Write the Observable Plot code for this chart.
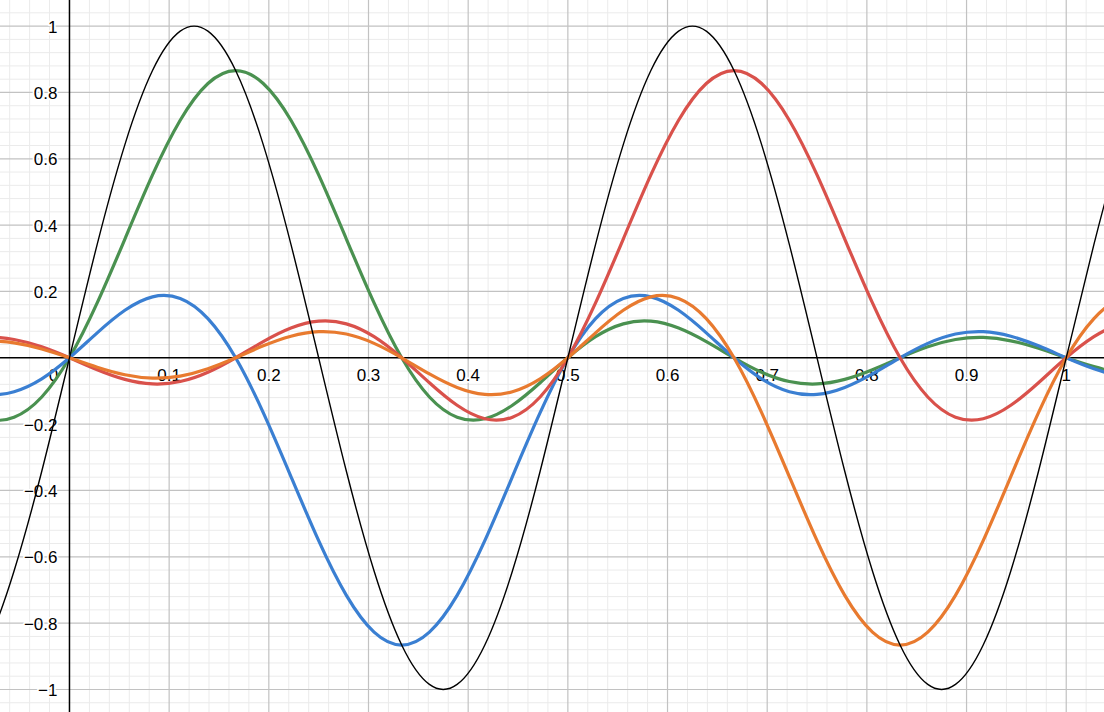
<!DOCTYPE html>
<html>
<head>
<meta charset="utf-8">
<script src="https://cdn.jsdelivr.net/npm/d3@7"></script>
<script src="https://cdn.jsdelivr.net/npm/@observablehq/plot@0.6"></script>
<style>
  html, body { margin: 0; padding: 0; background: #fff; }
  #chart svg { display: block; }
</style>
</head>
<body>
<div id="chart"></div>
<script>
// Sample positions (x)
const xs = [-0.1111, -0.0833, -0.0556, -0.0278, 0, 0.0278, 0.0556, 0.0833, 0.1111, 0.1389,
  0.1667, 0.1944, 0.2222, 0.25, 0.2778, 0.3056, 0.3333, 0.3611, 0.3889, 0.4167,
  0.4444, 0.4722, 0.5, 0.5278, 0.5556, 0.5833, 0.6111, 0.6389, 0.6667, 0.6944,
  0.7222, 0.75, 0.7778, 0.8056, 0.8333, 0.8611, 0.8889, 0.9167, 0.9444, 0.9722,
  1, 1.0278, 1.0556, 1.0833];

const blackY = [-0.9848, -0.8660, -0.6428, -0.3420, 0, 0.3420, 0.6428, 0.8660, 0.9848, 0.9848,
  0.8660, 0.6428, 0.3420, 0, -0.3420, -0.6428, -0.8660, -0.9848, -0.9848, -0.8660,
  -0.6428, -0.3420, 0, 0.3420, 0.6428, 0.8660, 0.9848, 0.9848, 0.8660, 0.6428,
  0.3420, 0, -0.3420, -0.6428, -0.8660, -0.9848, -0.9848, -0.8660, -0.6428, -0.3420,
  0, 0.3420, 0.6428, 0.8660];

const greenY = [-0.1432, -0.1838, -0.1790, -0.1181, 0, 0.1654, 0.3581, 0.5513, 0.7162, 0.8270,
  0.8660, 0.8270, 0.7162, 0.5513, 0.3581, 0.1654, 0, -0.1181, -0.1790, -0.1838,
  -0.1432, -0.0752, 0, 0.0636, 0.1023, 0.1103, 0.0895, 0.0486, 0, -0.0435,
  -0.0716, -0.0788, -0.0651, -0.0360, 0, 0.0331, 0.0551, 0.0613, 0.0512, 0.0285,
  0, -0.0267, -0.0448, -0.0501];

const blueY = [-0.0895, -0.1103, -0.1023, -0.0636, 0, 0.0752, 0.1432, 0.1838, 0.1790, 0.1181,
  0, -0.1654, -0.3581, -0.5513, -0.7162, -0.8270, -0.8660, -0.8270, -0.7162, -0.5513,
  -0.3581, -0.1654, 0, 0.1181, 0.1790, 0.1838, 0.1432, 0.0752, 0, -0.0636,
  -0.1023, -0.1103, -0.0895, -0.0486, 0, 0.0435, 0.0716, 0.0788, 0.0651, 0.0360,
  0, -0.0331, -0.0551, -0.0613];

const redY = [0.0512, 0.0613, 0.0551, 0.0331, 0, -0.0360, -0.0651, -0.0788, -0.0716, -0.0435,
  0, 0.0486, 0.0895, 0.1103, 0.1023, 0.0636, 0, -0.0752, -0.1432, -0.1838,
  -0.1790, -0.1181, 0, 0.1654, 0.3581, 0.5513, 0.7162, 0.8270, 0.8660, 0.8270,
  0.7162, 0.5513, 0.3581, 0.1654, 0, -0.1181, -0.1790, -0.1838, -0.1432, -0.0752,
  0, 0.0636, 0.1023, 0.1103];

const orangeY = [0.0421, 0.0501, 0.0448, 0.0267, 0, -0.0285, -0.0512, -0.0613, -0.0551, -0.0331,
  0, 0.0360, 0.0651, 0.0788, 0.0716, 0.0435, 0, -0.0486, -0.0895, -0.1103,
  -0.1023, -0.0636, 0, 0.0752, 0.1432, 0.1838, 0.1790, 0.1181, 0, -0.1654,
  -0.3581, -0.5513, -0.7162, -0.8270, -0.8660, -0.8270, -0.7162, -0.5513, -0.3581, -0.1654,
  0, 0.1181, 0.1790, 0.1838];

// Tick values and labels
const xTickValues = [0.1, 0.2, 0.3, 0.4, 0.5, 0.6, 0.7, 0.8, 0.9, 1];
const xTickLabels = ["0.1", "0.2", "0.3", "0.4", "0.5", "0.6", "0.7", "0.8", "0.9", "1"];
const yTickValues = [1, 0.8, 0.6, 0.4, 0.2, -0.2, -0.4, -0.6, -0.8, -1];
const yTickLabels = ["1", "0.8", "0.6", "0.4", "0.2", "\u22120.2", "\u22120.4", "\u22120.6", "\u22120.8", "\u22121"];

const xMinor = d3.range(-6, 104, 2).map(d => d / 100).filter(d => Math.round(d * 100) % 10 !== 0);
const xMajor = d3.range(1, 11).map(d => d / 10);
const yMinor = d3.range(-26, 27).map(d => d * 0.04).filter(d => Math.round(d * 100) % 20 !== 0);
const yMajor = d3.range(-5, 6).filter(d => d !== 0).map(d => d * 0.2);

const series = [
  {name: "green", ys: greenY, color: "#4a9150", w: 3.2},
  {name: "blue", ys: blueY, color: "#3a7fd2", w: 3.2},
  {name: "red", ys: redY, color: "#d9514b", w: 3.2},
  {name: "orange", ys: orangeY, color: "#e87a2f", w: 3.2},
  {name: "black", ys: blackY, color: "#000000", w: 1.4}
];

const font = "'Liberation Sans', Arial, sans-serif";

const lineMarks = series.map(s => Plot.line(xs.map((x, i) => ({x, y: s.ys[i]})), {
  x: "x", y: "y", stroke: s.color, strokeWidth: s.w, curve: "natural", clip: true
}));

const chart = Plot.plot({
  width: 1104,
  height: 712,
  margin: 0,
  style: {background: "#fff", fontFamily: font, fontSize: "17px"},
  x: {domain: [-0.0692, 1.0384], axis: null},
  y: {domain: [-1.0694, 1.0772], axis: null},
  marks: [
    Plot.ruleX(xMinor, {stroke: "#ebebeb", strokeWidth: 1}),
    Plot.ruleY(yMinor, {stroke: "#ebebeb", strokeWidth: 1}),
    Plot.ruleX(xMajor, {stroke: "#c2c2c2", strokeWidth: 1.2}),
    Plot.ruleY(yMajor, {stroke: "#c2c2c2", strokeWidth: 1.2}),
    Plot.ruleY([0], {stroke: "#000", strokeWidth: 1.5}),
    Plot.ruleX([0], {stroke: "#000", strokeWidth: 1.5}),
    Plot.text(xTickValues, {x: d => d, y: 0, text: (d, i) => xTickLabels[i], dy: 18,
      fontSize: 17, fill: "#000", stroke: "#fff", strokeWidth: 3.5, textAnchor: "middle"}),
    Plot.text(["0"], {x: 0, y: 0, text: d => d, dx: -16, dy: 18,
      fontSize: 17, fill: "#000", stroke: "#fff", strokeWidth: 3.5, textAnchor: "middle"}),
    Plot.text(yTickValues, {x: 0, y: d => d, text: (d, i) => yTickLabels[i], dx: -12, dy: 1,
      fontSize: 17, fill: "#000", stroke: "#fff", strokeWidth: 3.5, textAnchor: "end"}),
    ...lineMarks
  ]
});

document.getElementById("chart").appendChild(chart);
</script>
</body>
</html>
